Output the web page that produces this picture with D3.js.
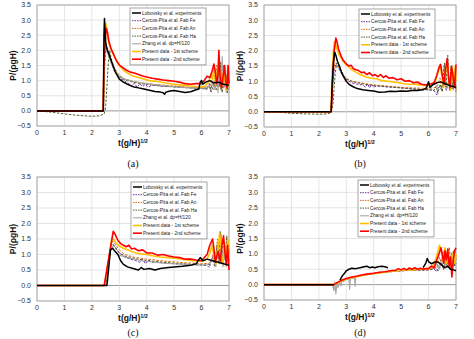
<!DOCTYPE html>
<html>
<head>
<meta charset="utf-8">
<script src="https://cdn.jsdelivr.net/npm/d3@7"></script>
<style>
  body { margin: 0; background: #fff; }
  svg { display: block; font-family: "Liberation Sans", Arial, sans-serif; }
</style>
</head>
<body>
<svg id="chart" width="474" height="339"></svg>
<script>
// axis ticks
var xTicks = [0, 1, 2, 3, 4, 5, 6, 7];
var yTicks = [-0.5, 0, 0.5, 1.0, 1.5, 2.0, 2.5, 3.0, 3.5];

// legend entries (same order in every panel)
var seriesNames = ["Lobovsky et al. experiments", "Cercos-Pita et al. Fab Fe", "Cercos-Pita et al. Fab An",
                   "Cercos-Pita et al. Fab Ha", "Zhang et al. dp=H/120", "Present data - 1st scheme", "Present data - 2nd scheme"];
var panelLabels = ["(a)", "(b)", "(c)", "(d)"];

/// panel (a) ///
var a_lobovsky = [[0,0],[2.42,0],[2.44,2.5],[2.46,3.05],[2.5,2.3],[2.55,2.05],[2.65,1.8],[2.75,1.55],[2.85,1.3],[3.0,1.05],[3.15,0.95],[3.3,0.88],[3.5,0.8],[3.7,0.76],[3.9,0.72],[4.1,0.68],[4.3,0.64],[4.5,0.62],[4.6,0.6],[4.65,0.55],[4.7,0.62],[4.85,0.66],[5.0,0.67],[5.2,0.64],[5.4,0.61],[5.6,0.63],[5.8,0.7],[5.9,0.72],[5.95,0.95],[6.0,1.0],[6.05,0.88],[6.15,0.95],[6.3,1.0],[6.45,0.92],[6.6,0.95],[6.8,0.88],[7.0,0.85]];
var a_fabFe = [[0,0],[2.42,0],[2.45,1.2],[2.5,2.0],[2.6,1.9],[2.7,1.6],[2.8,1.35],[3.0,1.1],[3.2,0.98],[3.35,0.9],[3.45,0.8],[3.55,0.92],[3.65,0.78],[3.75,0.9],[3.85,0.8],[3.95,0.88],[4.05,0.78],[4.2,0.85],[4.5,0.82],[5.0,0.8],[5.5,0.77],[6.0,0.75],[6.2,0.72],[6.28,0.9],[6.33,0.65],[6.4,0.95],[6.5,1.0],[6.6,0.8],[6.7,1.1],[6.8,0.75],[6.9,1.0],[7.0,0.8]];
var a_fabAn = [[0,0],[2.42,0],[2.45,1.5],[2.5,2.2],[2.6,2.0],[2.7,1.7],[2.8,1.45],[3.0,1.18],[3.2,1.05],[3.5,0.97],[4.0,0.9],[4.5,0.86],[5.0,0.82],[5.5,0.79],[6.0,0.77],[6.3,0.8],[6.4,1.1],[6.45,0.7],[6.55,1.5],[6.6,0.9],[6.68,1.6],[6.72,0.7],[6.8,1.3],[6.88,0.8],[6.95,1.4],[7.0,0.8]];
var a_fabHa = [[0,0],[0.5,-0.04],[1.0,-0.1],[1.5,-0.15],[2.0,-0.18],[2.3,-0.16],[2.45,-0.1],[2.5,0.1],[2.55,0.8],[2.6,1.6],[2.65,2.0],[2.7,1.75],[2.8,1.45],[2.9,1.25],[3.0,1.12],[3.2,1.02],[3.4,0.97],[3.6,0.93],[3.8,0.9],[4.0,0.88],[4.3,0.85],[4.6,0.82],[5.0,0.79],[5.5,0.76],[6.0,0.74],[6.2,0.72],[6.3,0.85],[6.35,0.62],[6.45,0.9],[6.55,0.7],[6.6,1.4],[6.65,0.8],[6.7,1.6],[6.75,0.6],[6.8,1.5],[6.85,0.8],[6.9,1.2],[6.95,0.6],[7.0,1.0]];
var a_zhang = [[0,0],[2.42,0],[2.44,1.5],[2.47,2.15],[2.52,2.05],[2.6,1.85],[2.7,1.6],[2.8,1.4],[2.9,1.25],[3.0,1.15],[3.2,1.05],[3.5,0.98],[3.8,0.93],[4.2,0.88],[4.6,0.84],[5.0,0.8],[5.5,0.77],[6.0,0.75],[6.2,0.78],[6.4,0.9],[6.5,0.7],[6.55,1.3],[6.6,0.6],[6.65,1.7],[6.7,0.7],[6.75,1.8],[6.8,0.8],[6.85,1.4],[6.9,0.6],[6.95,1.5],[7.0,0.7]];
var a_present1 = [[0,0],[2.41,0],[2.45,1.8],[2.5,2.9],[2.53,2.8],[2.58,2.4],[2.65,2.15],[2.75,1.95],[2.85,1.75],[3.0,1.5],[3.15,1.35],[3.3,1.25],[3.5,1.15],[3.7,1.1],[3.9,1.05],[4.1,1.0],[4.4,0.97],[4.7,0.92],[5.0,0.88],[5.3,0.85],[5.6,0.82],[5.9,0.8],[6.1,0.8],[6.25,0.95],[6.35,1.2],[6.4,1.05],[6.45,1.4],[6.5,1.0],[6.58,1.3],[6.62,1.6],[6.67,1.1],[6.73,0.8],[6.8,1.3],[6.85,1.0],[6.9,0.7],[6.95,1.2],[7.0,0.8]];
var a_present2 = [[0,0],[2.41,0],[2.44,1.5],[2.5,2.5],[2.53,2.72],[2.57,2.6],[2.62,2.3],[2.7,2.05],[2.8,1.85],[2.9,1.65],[3.0,1.52],[3.1,1.45],[3.25,1.35],[3.4,1.28],[3.55,1.25],[3.7,1.2],[3.85,1.15],[4.0,1.12],[4.2,1.08],[4.4,1.05],[4.6,1.02],[4.8,1.0],[5.0,0.98],[5.2,0.95],[5.4,0.9],[5.6,0.88],[5.8,0.9],[6.0,0.9],[6.1,1.0],[6.2,1.15],[6.3,1.1],[6.38,1.3],[6.45,1.55],[6.5,1.3],[6.55,0.9],[6.6,1.2],[6.63,2.0],[6.67,1.2],[6.72,0.75],[6.78,1.1],[6.84,1.5],[6.88,1.0],[6.93,0.75],[6.97,1.5],[7.0,0.9]];

/// panel (b) ///
var b_lobovsky = [[0,0],[2.45,0],[2.48,0.8],[2.53,1.6],[2.58,1.95],[2.62,1.85],[2.68,1.65],[2.75,1.5],[2.82,1.3],[2.9,1.15],[3.0,1.0],[3.1,0.9],[3.25,0.82],[3.4,0.76],[3.6,0.72],[3.8,0.7],[4.0,0.68],[4.2,0.64],[4.4,0.65],[4.6,0.67],[4.8,0.66],[5.0,0.68],[5.2,0.67],[5.4,0.7],[5.6,0.7],[5.8,0.72],[5.92,0.78],[6.0,0.98],[6.05,0.8],[6.15,0.88],[6.3,0.95],[6.45,0.98],[6.6,0.92],[6.8,0.85],[7.0,0.8]];
var b_fabFe = [[0,0],[2.45,0],[2.5,0.8],[2.57,1.45],[2.62,1.55],[2.7,1.45],[2.8,1.3],[2.9,1.15],[3.0,1.05],[3.2,0.95],[3.4,0.9],[3.6,0.88],[3.7,0.8],[3.78,0.92],[3.85,0.78],[3.92,0.9],[4.0,0.8],[4.1,0.85],[4.4,0.82],[4.8,0.8],[5.2,0.77],[5.6,0.74],[6.0,0.72],[6.2,0.7],[6.3,0.55],[6.35,0.8],[6.45,0.75],[6.55,1.0],[6.65,0.7],[6.75,1.1],[6.85,0.75],[6.95,1.0],[7.0,0.8]];
var b_fabAn = [[0,0],[2.45,0],[2.5,1.0],[2.57,1.55],[2.62,1.6],[2.7,1.5],[2.8,1.35],[2.9,1.2],[3.0,1.08],[3.2,1.0],[3.5,0.95],[4.0,0.88],[4.5,0.84],[5.0,0.8],[5.5,0.78],[6.0,0.76],[6.3,0.8],[6.42,1.1],[6.48,0.7],[6.56,1.5],[6.62,0.9],[6.7,1.7],[6.76,0.8],[6.83,1.4],[6.9,0.7],[6.96,1.3],[7.0,0.6]];
var b_fabHa = [[0,0],[0.3,0],[1.0,-0.05],[1.5,-0.07],[2.0,-0.08],[2.3,-0.07],[2.45,-0.03],[2.52,0.3],[2.56,0.8],[2.6,1.3],[2.65,1.6],[2.72,1.5],[2.8,1.38],[2.9,1.2],[3.0,1.08],[3.2,1.0],[3.4,0.95],[3.7,0.9],[4.0,0.86],[4.5,0.82],[5.0,0.78],[5.5,0.74],[6.0,0.72],[6.2,0.7],[6.28,0.85],[6.34,0.6],[6.42,0.9],[6.5,0.65],[6.58,1.6],[6.64,0.8],[6.7,1.85],[6.76,0.7],[6.82,1.5],[6.88,0.8],[6.94,1.3],[7.0,0.7]];
var b_present1 = [[0,0],[2.44,0],[2.48,1.2],[2.53,2.0],[2.57,2.3],[2.6,2.25],[2.66,2.05],[2.75,1.85],[2.85,1.7],[2.95,1.58],[3.05,1.5],[3.2,1.38],[3.35,1.3],[3.5,1.22],[3.7,1.15],[3.9,1.1],[4.1,1.08],[4.3,1.02],[4.5,1.0],[4.7,0.98],[4.9,0.95],[5.1,0.92],[5.3,0.9],[5.5,0.9],[5.7,0.88],[5.9,0.85],[6.1,0.88],[6.25,1.0],[6.35,1.3],[6.42,1.55],[6.48,1.2],[6.55,0.8],[6.62,1.3],[6.68,1.6],[6.74,1.0],[6.8,0.7],[6.86,1.4],[6.92,0.9],[6.97,1.5],[7.0,1.0]];
var b_present2 = [[0,0],[2.45,0],[2.5,1.0],[2.56,2.0],[2.62,2.42],[2.66,2.3],[2.72,2.05],[2.8,1.85],[2.88,1.7],[2.95,1.62],[3.02,1.55],[3.1,1.5],[3.18,1.52],[3.25,1.42],[3.35,1.38],[3.45,1.35],[3.55,1.28],[3.65,1.3],[3.75,1.22],[3.85,1.28],[3.95,1.18],[4.05,1.22],[4.15,1.15],[4.25,1.22],[4.35,1.12],[4.45,1.18],[4.55,1.1],[4.7,1.12],[4.85,1.05],[5.0,1.08],[5.15,1.0],[5.3,1.02],[5.45,0.95],[5.6,0.97],[5.75,0.9],[5.9,0.88],[6.05,0.9],[6.2,0.95],[6.3,1.2],[6.38,1.45],[6.44,1.55],[6.5,1.2],[6.56,0.9],[6.62,1.4],[6.68,1.75],[6.73,1.1],[6.78,0.8],[6.84,1.5],[6.9,1.1],[6.95,0.8],[7.0,1.55]];

/// panel (c) ///
var c_lobovsky = [[0,0],[2.55,0],[2.68,1.15],[2.75,1.2],[2.85,1.1],[2.95,1.0],[3.05,0.8],[3.15,0.68],[3.3,0.6],[3.5,0.55],[3.7,0.5],[3.8,0.58],[3.9,0.52],[4.1,0.55],[4.3,0.5],[4.5,0.55],[4.8,0.58],[5.0,0.6],[5.3,0.62],[5.6,0.65],[5.8,0.7],[5.95,0.9],[6.05,0.8],[6.2,0.85],[6.4,0.8],[6.6,0.75],[6.8,0.7],[7.0,0.65]];
var c_fabFe = [[0,0],[2.5,0],[2.7,1.3],[2.75,1.35],[2.85,1.25],[3.0,1.05],[3.2,0.92],[3.4,0.85],[3.6,0.8],[3.75,0.75],[3.85,0.85],[3.95,0.7],[4.05,0.82],[4.2,0.75],[4.5,0.74],[5.0,0.7],[5.5,0.68],[6.0,0.66],[6.2,0.65],[6.28,0.58],[6.35,0.8],[6.42,0.95],[6.5,0.7],[6.6,1.0],[6.7,0.75],[6.8,1.1],[6.9,0.7],[7.0,0.9]];
var c_fabAn = [[0,0],[2.5,0],[2.72,1.4],[2.78,1.42],[2.88,1.3],[3.0,1.15],[3.2,1.0],[3.5,0.92],[4.0,0.85],[4.5,0.8],[5.0,0.76],[5.5,0.73],[6.0,0.7],[6.3,0.72],[6.42,1.0],[6.5,0.7],[6.58,1.5],[6.64,0.8],[6.7,1.7],[6.76,0.7],[6.84,1.3],[6.9,0.6],[6.96,1.4],[7.0,0.8]];
var c_fabHa = [[0,0],[2.5,0],[2.7,1.3],[2.76,1.33],[2.86,1.2],[3.0,1.05],[3.2,0.95],[3.5,0.88],[4.0,0.8],[4.5,0.76],[5.0,0.72],[5.5,0.69],[6.0,0.66],[6.3,0.68],[6.4,0.9],[6.48,0.6],[6.56,1.3],[6.62,0.7],[6.68,1.75],[6.74,0.7],[6.8,1.5],[6.86,0.8],[6.92,1.6],[6.97,0.7],[7.0,1.2]];
var c_zhang = [[0,0],[2.48,0],[2.68,1.25],[2.72,1.3],[2.8,1.15],[2.9,1.05],[3.0,0.98],[3.2,0.92],[3.4,0.88],[3.6,0.84],[3.8,0.8],[4.0,0.78],[4.3,0.75],[4.6,0.72],[5.0,0.7],[5.5,0.68],[6.0,0.66],[6.3,0.7],[6.45,0.95],[6.52,0.6],[6.6,1.4],[6.66,0.7],[6.72,1.6],[6.78,0.6],[6.85,1.3],[6.92,0.7],[7.0,1.1]];
var c_present1 = [[0,0],[2.46,0],[2.74,1.55],[2.8,1.48],[2.88,1.38],[2.96,1.3],[3.05,1.25],[3.15,1.2],[3.3,1.15],[3.45,1.1],[3.6,1.05],[3.8,1.02],[4.0,1.0],[4.2,0.96],[4.5,0.92],[4.8,0.9],[5.1,0.87],[5.4,0.83],[5.7,0.8],[6.0,0.78],[6.2,0.85],[6.3,1.05],[6.38,1.3],[6.44,1.0],[6.52,0.7],[6.6,1.2],[6.66,1.7],[6.72,1.0],[6.78,0.7],[6.84,1.3],[6.9,1.0],[6.96,1.5],[7.0,0.9]];
var c_present2 = [[0,0],[2.45,0],[2.78,1.75],[2.85,1.65],[2.95,1.45],[3.05,1.35],[3.15,1.3],[3.25,1.25],[3.35,1.3],[3.45,1.18],[3.55,1.2],[3.7,1.12],[3.85,1.15],[4.0,1.05],[4.2,1.05],[4.4,0.98],[4.6,1.0],[4.8,0.95],[5.0,0.92],[5.2,0.9],[5.4,0.85],[5.6,0.85],[5.8,0.82],[6.0,0.8],[6.2,1.0],[6.3,1.3],[6.4,1.5],[6.45,1.2],[6.5,0.75],[6.6,1.1],[6.68,0.8],[6.75,1.35],[6.8,1.6],[6.85,1.1],[6.9,0.7],[6.95,1.3],[7.0,0.5]];

/// panel (d) ///  (null = gap in the record)
var d_lobovsky = [[0,0],[2.55,0],null,[2.77,0.15],[2.85,0.28],[2.92,0.35],[3.0,0.45],[3.1,0.5],[3.2,0.53],[3.35,0.52],[3.5,0.55],[3.65,0.58],[3.75,0.6],[3.85,0.55],[3.95,0.57],[4.05,0.55],[4.15,0.58],[4.3,0.6],[4.45,0.57],[4.52,0.55],null,[5.8,0.55],[5.9,0.7],[5.95,0.85],[6.0,0.75],[6.1,0.68],[6.2,0.72],[6.3,0.75],[6.4,0.7],[6.5,0.62],[6.6,0.55],[6.7,0.6],[6.8,0.5],[6.9,0.48],[7.0,0.45]];
var d_fabFe = [[0,0],[2.55,0],[2.8,0.12],[3.0,0.17],[3.5,0.29],[4.0,0.36],[4.5,0.41],[5.0,0.45],[5.5,0.47],[6.0,0.48],[6.2,0.5],[6.3,0.42],[6.35,0.6],[6.45,0.7],[6.55,0.5],[6.65,0.8],[6.75,0.55],[6.85,0.9],[6.95,0.6],[7.0,0.7]];
var d_fabAn = [[0,0],[2.55,0],[2.8,0.13],[3.0,0.18],[3.5,0.3],[4.0,0.37],[4.5,0.42],[5.0,0.46],[5.5,0.48],[6.0,0.49],[6.3,0.55],[6.4,0.9],[6.48,0.6],[6.56,1.1],[6.62,0.7],[6.7,1.2],[6.76,0.6],[6.84,1.05],[6.9,0.6],[6.96,1.15],[7.0,0.8]];
var d_fabHa = [[0,0],[2.55,0],[2.8,0.12],[3.0,0.18],[3.5,0.29],[4.0,0.36],[4.5,0.41],[5.0,0.45],[5.5,0.47],[6.0,0.48],[6.25,0.55],[6.35,0.45],[6.45,0.8],[6.55,0.5],[6.62,1.0],[6.68,0.55],[6.75,1.2],[6.82,0.7],[6.9,1.1],[6.96,0.6],[7.0,0.9]];
var d_zhang = [[0,0],[2.5,0],[2.55,-0.2],[2.58,0.1],[2.62,-0.3],[2.66,0.05],[2.7,-0.1],[2.75,0.12],[2.8,-0.05],[2.85,0.15],[2.9,0.1],[3.0,0.18],[3.1,0.2],[3.12,-0.15],[3.15,0.2],[3.3,0.22],[3.32,-0.05],[3.35,0.25],[3.6,0.3],[4.0,0.36],[4.5,0.42],[5.0,0.45],[5.5,0.48],[6.0,0.5],[6.2,0.55],[6.3,0.7],[6.4,0.5],[6.5,0.9],[6.6,0.6],[6.7,1.1],[6.8,0.5],[6.9,0.9],[7.0,0.6]];
var d_present1 = [[0,0],[2.55,0],[2.7,0.06],[2.85,0.13],[3.0,0.18],[3.3,0.24],[3.6,0.3],[3.9,0.35],[4.2,0.38],[4.5,0.42],[4.8,0.45],[5.1,0.48],[5.4,0.48],[5.7,0.5],[6.0,0.5],[6.15,0.6],[6.25,0.8],[6.35,1.1],[6.4,1.28],[6.45,1.15],[6.52,0.8],[6.6,1.2],[6.66,0.7],[6.72,1.1],[6.8,0.6],[6.88,1.0],[6.95,0.7],[7.0,1.0]];
var d_present2 = [[0,0],[2.55,0],[2.7,0.08],[2.85,0.15],[3.0,0.2],[3.2,0.25],[3.4,0.28],[3.6,0.32],[3.8,0.35],[4.0,0.37],[4.2,0.4],[4.4,0.42],[4.6,0.45],[4.8,0.47],[4.9,0.52],[5.0,0.48],[5.1,0.53],[5.2,0.48],[5.3,0.54],[5.4,0.5],[5.5,0.55],[5.6,0.5],[5.7,0.53],[5.8,0.5],[5.9,0.52],[6.0,0.52],[6.1,0.6],[6.2,0.55],[6.3,0.8],[6.38,1.0],[6.45,1.2],[6.5,1.0],[6.55,0.7],[6.6,1.1],[6.65,0.8],[6.7,1.15],[6.75,0.6],[6.8,0.9],[6.85,0.25],[6.9,0.8],[6.95,1.1],[7.0,1.2]];

// line styles, one per series
var seriesColors = ["#000000", "#7030a0", "#e46c0a", "#4f6228", "#a6a6a6", "#ffc000", "#ff0000"];
var seriesDash   = [null, "2.5,1.5", "2.5,1.5", "2.5,1.5", null, null, null];
var seriesWidth  = [1.5, 1.0, 1.0, 1.0, 1.1, 1.6, 1.6];
var drawOrder    = [1, 2, 3, 4, 5, 6, 0];

// panel layout (plot area in page pixels, legend box inside the plot)
var panels = [
  {label: panelLabels[0], box: {x: 37,  y: 5,   w: 192, h: 121}, capY: 163, leg: {x: 93, y: 3},
   series: [a_lobovsky, a_fabFe, a_fabAn, a_fabHa, a_zhang, a_present1, a_present2]},
  {label: panelLabels[1], box: {x: 264, y: 5,   w: 192, h: 122}, capY: 163, leg: {x: 95, y: 4},
   series: [b_lobovsky, b_fabFe, b_fabAn, b_fabHa, null, b_present1, b_present2]},
  {label: panelLabels[2], box: {x: 37,  y: 177, w: 192, h: 124}, capY: 332, leg: {x: 94, y: 5},
   series: [c_lobovsky, c_fabFe, c_fabAn, c_fabHa, c_zhang, c_present1, c_present2]},
  {label: panelLabels[3], box: {x: 264, y: 177, w: 192, h: 123}, capY: 332, leg: {x: 94, y: 3},
   series: [d_lobovsky, d_fabFe, d_fabAn, d_fabHa, d_zhang, d_present1, d_present2]}
];

var svg = d3.select("#chart");

panels.forEach(function(p) { renderPanel(p); });

function renderPanel(p) {
  var b = p.box;
  var x = d3.scaleLinear().domain([0, 7]).range([0, b.w]);
  var y = d3.scaleLinear().domain([-0.5, 3.5]).range([b.h, 0]);

  var g = svg.append("g").attr("transform", "translate(" + b.x + "," + b.y + ")");

  // grid
  g.append("g").selectAll("line.gy").data(yTicks).enter().append("line")
    .attr("x1", 0).attr("x2", b.w)
    .attr("y1", function(d) { return y(d); }).attr("y2", function(d) { return y(d); })
    .attr("stroke", function(d) { return d === 0 ? "#8c8c8c" : "#d9d9d9"; })
    .attr("stroke-width", function(d) { return d === 0 ? 0.9 : 0.7; });
  g.append("g").selectAll("line.gx").data(xTicks).enter().append("line")
    .attr("y1", 0).attr("y2", b.h)
    .attr("x1", function(d) { return x(d); }).attr("x2", function(d) { return x(d); })
    .attr("stroke", "#d9d9d9").attr("stroke-width", 0.7);
  g.append("rect").attr("width", b.w).attr("height", b.h)
    .attr("fill", "none").attr("stroke", "#9a9a9a").attr("stroke-width", 0.8);

  // tick labels
  g.append("g").selectAll("text").data(yTicks).enter().append("text")
    .attr("x", -6).attr("y", function(d) { return y(d); }).attr("dy", "0.35em")
    .attr("text-anchor", "end").attr("font-size", 7).attr("fill", "#333")
    .text(d3.format(".1f"));
  g.append("g").selectAll("text").data(xTicks).enter().append("text")
    .attr("x", function(d) { return x(d); }).attr("y", b.h + 9)
    .attr("text-anchor", "middle").attr("font-size", 7).attr("fill", "#333")
    .text(function(d) { return d; });

  // series
  var line = d3.line()
    .defined(function(d) { return d != null; })
    .x(function(d) { return x(d[0]); })
    .y(function(d) { return y(d[1]); });

  drawOrder.forEach(function(i) {
    var data = p.series[i];
    if (!data) return;
    g.append("path").datum(data)
      .attr("d", line)
      .attr("fill", "none")
      .attr("stroke", seriesColors[i])
      .attr("stroke-width", seriesWidth[i])
      .attr("stroke-dasharray", seriesDash[i])
      .attr("stroke-linejoin", "round");
  });

  // legend
  var entries = [];
  p.series.forEach(function(s, i) { if (s) entries.push(i); });
  var rowH = 7.7;
  var lg = g.append("g").attr("transform", "translate(" + p.leg.x + "," + p.leg.y + ")");
  lg.append("rect").attr("width", 76).attr("height", entries.length * rowH + 3)
    .attr("fill", "#fff").attr("stroke", "#7f7f7f").attr("stroke-width", 0.7);
  var row = lg.selectAll("g.row").data(entries).enter().append("g")
    .attr("transform", function(d, k) { return "translate(0," + (5 + k * rowH) + ")"; });
  row.append("line").attr("x1", 2).attr("x2", 11).attr("y1", 0).attr("y2", 0)
    .attr("stroke", function(d) { return seriesColors[d]; })
    .attr("stroke-width", function(d) { return seriesWidth[d]; })
    .attr("stroke-dasharray", function(d) { return seriesDash[d] ? "1.5,1" : null; });
  row.append("text").attr("x", 12).attr("y", 0).attr("dy", "0.35em")
    .attr("font-size", 4.8).attr("fill", "#222")
    .text(function(d) { return seriesNames[d]; });

  // axis titles
  var xt = g.append("text").attr("x", b.w / 2).attr("y", b.h + 20)
    .attr("text-anchor", "middle").attr("font-size", 8.5).attr("font-weight", "bold").attr("fill", "#111");
  xt.append("tspan").text("t(g/H)");
  xt.append("tspan").attr("font-size", 5.5).attr("dy", -3.5).text("1/2");

  g.append("text")
    .attr("transform", "translate(-21," + (b.h / 2) + ") rotate(-90)")
    .attr("text-anchor", "middle").attr("font-size", 8.5).attr("font-weight", "bold").attr("fill", "#111")
    .text("P/(\u03c1gH)");

  // caption
  svg.append("text").attr("x", b.x + b.w / 2).attr("y", p.capY).attr("dy", "0.35em")
    .attr("text-anchor", "middle").attr("font-family", "Liberation Serif, serif")
    .attr("font-size", 10).attr("fill", "#111")
    .text(p.label);
}
</script>
</body>
</html>
